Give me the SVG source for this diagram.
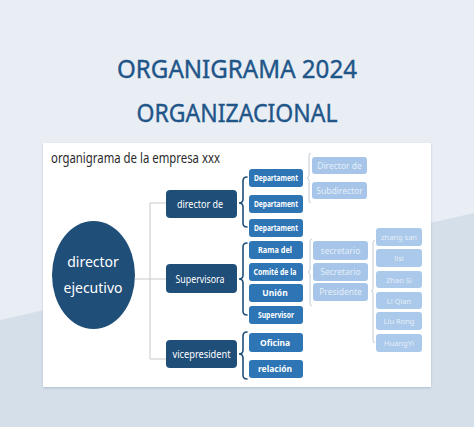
<svg xmlns="http://www.w3.org/2000/svg" width="474" height="427" viewBox="0 0 474 427">
<defs>
<style>
.t{font-family:"Noto Sans","Liberation Sans",sans-serif;}
.dark{fill:#1f4e79;}
.mid{fill:#2e75b6;}
.lt{fill:#a6c5e8;}
.lt2{fill:#abc9ea;}
.wt{fill:#ffffff;text-anchor:middle;}
.mw{fill:#ffffff;text-anchor:middle;font-weight:bold;}
.pt{fill:#e4eef9;text-anchor:middle;}
.brace{fill:none;stroke:#1f4e79;stroke-width:1.6;stroke-linecap:round;}
.thin{fill:none;stroke:#c3ccd6;stroke-width:1;}
.conn{fill:none;stroke:#c9c9c9;stroke-width:1;}
</style>
<filter id="sh" x="-5%" y="-5%" width="110%" height="110%">
<feDropShadow dx="0" dy="1" stdDeviation="1.2" flood-color="#8a9bb0" flood-opacity="0.5"/>
</filter>
</defs>
<rect x="0" y="0" width="474" height="427" fill="#e9eef5"/>
<polygon points="0,320 474,213 474,427 0,427" fill="#d5dfea"/>
<text class="t" x="237" y="78" font-size="25" fill="#1f5588" stroke="#1f5588" stroke-width="0.4" text-anchor="middle" textLength="240" lengthAdjust="spacingAndGlyphs">ORGANIGRAMA 2024</text>
<text class="t" x="237" y="122" font-size="25" fill="#1f5588" stroke="#1f5588" stroke-width="0.4" text-anchor="middle" textLength="201" lengthAdjust="spacingAndGlyphs">ORGANIZACIONAL</text>
<rect x="43" y="143" width="388" height="244" fill="#ffffff" filter="url(#sh)"/>
<text class="t" x="51" y="163" font-size="14" fill="#2b2b2b" textLength="169" lengthAdjust="spacingAndGlyphs">organigrama de la empresa xxx</text>

<g id="connectors">
<path class="conn" d="M135,279 H166 M150,203 V359 M150,203 H166 M150,359 H166"/>
<path class="brace" d="M247,177 Q243,177 243,181 L243,199 Q243,203 239,203 Q243,203 243,207 L243,223 Q243,227 247,227"/>
<path class="brace" d="M247,243 Q243,243 243,247 L243,275 Q243,279 239,279 Q243,279 243,283 L243,311 Q243,315 247,315"/>
<path class="brace" d="M247,332 Q243,332 243,336 L243,350 Q243,354 239,354 Q243,354 243,358 L243,375 Q243,379 247,379"/>
<path class="thin" d="M311,153 Q309,153 309,156 L309,175 Q309,178 307,178 Q309,178 309,181 L309,200 Q309,203 311,203"/>
<path class="thin" d="M312,239 Q310,239 310,242 L310,269 Q310,272 308,272 Q310,272 310,275 L310,303 Q310,306 312,306"/>
<path class="thin" d="M375,240 Q373,240 373,243 L373,288 Q373,291 371,291 Q373,291 373,294 L373,340 Q373,343 375,343"/>
</g>

<g id="n-ceo">
<ellipse class="dark" cx="93.5" cy="275" rx="41.5" ry="54"/>
<text class="t wt" x="93" y="267" font-size="14">director</text>
<text class="t wt" x="93" y="293" font-size="14">ejecutivo</text>
</g>

<g id="n-director-de">
<rect class="dark" x="166" y="190" width="71" height="28" rx="4"/>
<text class="t wt" x="200" y="208" font-size="11" textLength="46" lengthAdjust="spacingAndGlyphs">director de</text>
</g>
<g id="n-supervisora">
<rect class="dark" x="166" y="264" width="71" height="29" rx="4"/>
<text class="t wt" x="200" y="282.5" font-size="11" textLength="49" lengthAdjust="spacingAndGlyphs">Supervisora</text>
</g>
<g id="n-vicepresident">
<rect class="dark" x="166" y="340" width="71" height="28" rx="4"/>
<text class="t wt" x="201.5" y="358" font-size="11" textLength="58" lengthAdjust="spacingAndGlyphs">vicepresident</text>
</g>

<g id="n-dep1"><rect class="mid" x="249" y="169" width="54" height="18" rx="3"/><text class="t mw" x="276" y="181" font-size="8.5" textLength="44" lengthAdjust="spacingAndGlyphs">Departament</text></g>
<g id="n-dep2"><rect class="mid" x="249" y="195" width="54" height="18" rx="3"/><text class="t mw" x="276" y="207" font-size="8.5" textLength="44" lengthAdjust="spacingAndGlyphs">Departament</text></g>
<g id="n-dep3"><rect class="mid" x="249" y="219" width="54" height="18" rx="3"/><text class="t mw" x="276" y="231" font-size="8.5" textLength="44" lengthAdjust="spacingAndGlyphs">Departament</text></g>
<g id="n-rama"><rect class="mid" x="249" y="241" width="54" height="18" rx="3"/><text class="t mw" x="275" y="253" font-size="8.5" textLength="34" lengthAdjust="spacingAndGlyphs">Rama del</text></g>
<g id="n-comite"><rect class="mid" x="249" y="263" width="54" height="18" rx="3"/><text class="t mw" x="275" y="275" font-size="8.5" textLength="43" lengthAdjust="spacingAndGlyphs">Comité de la</text></g>
<g id="n-union"><rect class="mid" x="249" y="284" width="54" height="18" rx="3"/><text class="t mw" x="275" y="296" font-size="8.5">Unión</text></g>
<g id="n-supervisor"><rect class="mid" x="249" y="306" width="54" height="18" rx="3"/><text class="t mw" x="276" y="318" font-size="8.5" textLength="36" lengthAdjust="spacingAndGlyphs">Supervisor</text></g>
<g id="n-oficina"><rect class="mid" x="249" y="333" width="54" height="19" rx="3"/><text class="t mw" x="275" y="345.5" font-size="8.5">Oficina</text></g>
<g id="n-relacion"><rect class="mid" x="249" y="360" width="54" height="18" rx="3"/><text class="t mw" x="275" y="372" font-size="8.5">relación</text></g>

<g id="n-director-de-2"><rect class="lt" x="312" y="157" width="55" height="17" rx="3"/><text class="t pt" x="339.5" y="168.5" font-size="8.5">Director de</text></g>
<g id="n-subdirector"><rect class="lt" x="312" y="182" width="55" height="17" rx="3"/><text class="t pt" x="339.5" y="193.5" font-size="8.5">Subdirector</text></g>
<g id="n-secretario1"><rect class="lt" x="313" y="241" width="55" height="19" rx="3"/><text class="t pt" x="340.5" y="253.5" font-size="8.5">secretario</text></g>
<g id="n-secretario2"><rect class="lt" x="313" y="263" width="55" height="18" rx="3"/><text class="t pt" x="340.5" y="275" font-size="8.5">Secretario</text></g>
<g id="n-presidente"><rect class="lt" x="313" y="283" width="55" height="18" rx="3"/><text class="t pt" x="340.5" y="295" font-size="8.5">Presidente</text></g>

<g id="n-zhangsan"><rect class="lt2" x="376" y="228" width="46" height="18" rx="3"/><text class="t pt" x="399" y="240" font-size="7.5">zhang san</text></g>
<g id="n-lisi"><rect class="lt2" x="376" y="249" width="46" height="18" rx="3"/><text class="t pt" x="399" y="261" font-size="7.5">lisi</text></g>
<g id="n-zhaosi"><rect class="lt2" x="376" y="271" width="46" height="17" rx="3"/><text class="t pt" x="399" y="282.5" font-size="7.5">Zhao Si</text></g>
<g id="n-liqian"><rect class="lt2" x="376" y="292" width="46" height="17" rx="3"/><text class="t pt" x="399" y="303.5" font-size="7.5">Li Qian</text></g>
<g id="n-liurong"><rect class="lt2" x="376" y="312" width="46" height="18" rx="3"/><text class="t pt" x="399" y="324" font-size="7.5">Liu Rong</text></g>
<g id="n-huangyi"><rect class="lt2" x="376" y="334" width="46" height="18" rx="3"/><text class="t pt" x="399" y="346" font-size="7.5">HuangYi</text></g>
</svg>
